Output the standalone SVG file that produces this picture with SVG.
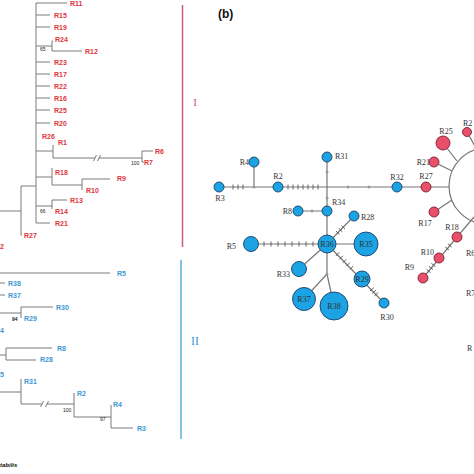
<svg xmlns="http://www.w3.org/2000/svg" width="474" height="474" viewBox="0 0 474 474">
<style>
.t{stroke:#7a7a7a;stroke-width:1;fill:none}
.r{font-family:"Liberation Sans",Arial,sans-serif;font-size:7px;font-weight:bold;fill:#e0363c}
.b{font-family:"Liberation Sans",Arial,sans-serif;font-size:7px;font-weight:bold;fill:#3d98d3}
.s{font-family:"Liberation Sans",Arial,sans-serif;font-size:5px;fill:#222}
.n{stroke:#777;stroke-width:1.2;fill:none}
.h{stroke:#555;stroke-width:0.9}
.bc{fill:#1ba3e3;stroke:#1d3f66;stroke-width:0.9}
.pc{fill:#e8506a;stroke:#7d1f34;stroke-width:0.9}
.d{fill:#999}
.l{font-family:"Liberation Serif","Times New Roman",serif;font-size:8px;fill:#333}
</style>
<rect width="474" height="474" fill="#fff"/>
<!-- tree (a) -->
<g id="tree-connectors">
<path class="t" d="M36,3V223M36,3H67M36,15H50M36,27H50M36,46H52M52,41V51M52,41H53M52,51H82M36,62H50M36,74H50M36,86H50M36,98H50M36,110H50M36,123H50M36,151H53M53,145V158M53,158H95M99,158H142M142,151V162M142,151H153M142,162H144M36,177H52M52,168V185M52,185H82M82,179V190M82,179H110M36,206H52M52,200V209M52,200H67M36,223H50M21,186V235M21,186H36M0,211H21M21,235H22"/>
<path class="t" d="M93.5,161L96.5,155M97.5,161L100.5,155"/>
<path class="t" d="M0,273H110M0,283H5M0,295H5M0,313H21M21,307V318M21,307H53M0,355H6M6,348V360M6,348H52M6,360H36M0,392H21M21,379V404M21,404H42M47,404H74M74,393V417M74,417H111M111,405V428M111,428H133"/>
<path class="t" d="M40.5,407L43.5,401M45.5,407L48.5,401"/>
</g>
<g id="tree-labels">
<text class="r" x="70" y="6">R11</text>
<text class="r" x="54" y="18">R15</text>
<text class="r" x="54" y="30">R19</text>
<text class="r" x="55" y="42">R24</text>
<text class="r" x="85" y="54">R12</text>
<text class="s" x="40" y="51">65</text>
<text class="r" x="54" y="65">R23</text>
<text class="r" x="54" y="77">R17</text>
<text class="r" x="54" y="89">R22</text>
<text class="r" x="54" y="101">R16</text>
<text class="r" x="54" y="113">R25</text>
<text class="r" x="54" y="126">R20</text>
<text class="r" x="42" y="139">R26</text>
<text class="r" x="58" y="145">R1</text>
<text class="r" x="155" y="154">R6</text>
<text class="r" x="144" y="165">R7</text>
<text class="s" x="131" y="165">100</text>
<text class="r" x="55" y="175">R18</text>
<text class="r" x="117" y="181">R9</text>
<text class="r" x="86" y="193">R10</text>
<text class="r" x="70" y="203">R13</text>
<text class="r" x="55" y="214">R14</text>
<text class="s" x="40" y="213">66</text>
<text class="r" x="55" y="226">R21</text>
<text class="r" x="24" y="238">R27</text>
<text class="r" x="0" y="249">2</text>
<text class="b" x="117" y="276">R5</text>
<text class="b" x="8" y="286">R38</text>
<text class="b" x="8" y="298">R37</text>
<text class="b" x="56" y="310">R30</text>
<text class="b" x="24" y="321">R29</text>
<text class="s" x="12" y="321" font-weight="bold">94</text>
<text class="b" x="0" y="333">4</text>
<text class="b" x="57" y="351">R8</text>
<text class="b" x="40" y="362">R28</text>
<text class="b" x="0" y="377">5</text>
<text class="b" x="24" y="384">R31</text>
<text class="b" x="77" y="396">R2</text>
<text class="s" x="63" y="412">100</text>
<text class="b" x="113" y="407">R4</text>
<text class="s" x="100" y="421">97</text>
<text class="b" x="137" y="431">R3</text>
<text x="0" y="467" font-family="Liberation Sans,Arial,sans-serif" font-size="6" font-weight="bold" font-style="italic" fill="#111">tabilis</text>
</g>
<g id="clade-I">
<line x1="182.5" y1="5" x2="182.5" y2="247" stroke="#c95a80" stroke-width="1.5"/>
<text x="195" y="106" font-family="Liberation Serif,serif" font-size="11" fill="#c95a80" text-anchor="middle">I</text>
</g>
<g id="clade-II">
<line x1="181" y1="260" x2="181" y2="439" stroke="#5aaedc" stroke-width="1.5"/>
<text x="195" y="345" font-family="Liberation Serif,serif" font-size="12" fill="#3d98d3" text-anchor="middle">II</text>
</g>
<text x="218" y="18" font-family="Liberation Sans,Arial,sans-serif" font-size="12" font-weight="bold" fill="#111">(b)</text>
<!-- network (b) -->
<g id="connectors">
<path class="n" d="M219,187H397M254,187V162M327,157V244M298,211H327M327,244L354,216M251,244H366M327,244L299,269M327,244V274L304,299M327,274L334,306M327,244L384,303M397,187H449M443,143L457,161M467,132L476,148M434,162L452,171M434,212L452,200M423,278L457,237L474,217"/>
<circle cx="487" cy="186" r="38" fill="none" stroke="#777" stroke-width="1.2"/>
<g class="h">
<path d="M233,184.5V189.5M238,184.5V189.5M243,184.5V189.5"/>
<path d="M288,184.5V189.5M293,184.5V189.5M298,184.5V189.5M303,184.5V189.5M308,184.5V189.5M313,184.5V189.5M318,184.5V189.5"/>
<path d="M264,241.5V246.5M271,241.5V246.5M278,241.5V246.5M285,241.5V246.5M292,241.5V246.5M299,241.5V246.5M306,241.5V246.5M313,241.5V246.5"/>
<path d="M336,231.1L339.6,234.5M338.7,228.3L342.3,231.7M341.4,225.5L345,228.9"/>
<path d="M335.8,256L339.3,252.4M339.3,259.4L342.8,255.8M342.8,262.8L346.3,259.2M346.3,266.2L349.8,262.6M349.8,269.6L353.3,266"/>
<path d="M370,290.9L373.8,287.6M372.2,293.4L376,290.1M374.4,295.9L378.2,292.6"/>
<path d="M447.9,243.8L451.7,247M445.2,247L449,250.1"/>
<path d="M431.4,263.4L435.4,266.6M429,266.4L433,269.6M426.6,269.4L430.6,272.6"/>
</g>
<circle class="d" cx="254" cy="187" r="1.5"/>
<circle class="d" cx="327" cy="172" r="1.5"/>
<circle class="d" cx="327" cy="198" r="1.5"/>
<circle class="d" cx="312" cy="211" r="1.5"/>
<circle class="d" cx="348" cy="187" r="1.5"/>
<circle class="d" cx="369" cy="187" r="1.5"/>
<circle class="d" cx="327" cy="274" r="1.5"/>
</g>
<g id="node-R3"><circle class="bc" cx="219" cy="187" r="5"/><text class="l" x="220" y="201" text-anchor="middle">R3</text></g>
<g id="node-R4"><circle class="bc" cx="254" cy="162" r="5"/><text class="l" x="249" y="165" text-anchor="end">R4</text></g>
<g id="node-R2"><circle class="bc" cx="278" cy="187" r="5"/><text class="l" x="278" y="179" text-anchor="middle">R2</text></g>
<g id="node-R31"><circle class="bc" cx="327" cy="157" r="5"/><text class="l" x="335" y="159">R31</text></g>
<g id="node-R32"><circle class="bc" cx="397" cy="187" r="5"/><text class="l" x="397" y="180" text-anchor="middle">R32</text></g>
<g id="node-R34"><circle class="bc" cx="327" cy="211" r="5"/><text class="l" x="332" y="205">R34</text></g>
<g id="node-R8"><circle class="bc" cx="298" cy="211" r="5"/><text class="l" x="292" y="214" text-anchor="end">R8</text></g>
<g id="node-R28"><circle class="bc" cx="354" cy="216" r="5"/><text class="l" x="361" y="220">R28</text></g>
<g id="node-R5"><circle class="bc" cx="251" cy="244" r="7.5"/><text class="l" x="236" y="249" text-anchor="end">R5</text></g>
<g id="node-R36"><circle class="bc" cx="327" cy="244" r="9"/><text class="l" x="327" y="247" text-anchor="middle">R36</text></g>
<g id="node-R35"><circle class="bc" cx="366" cy="244" r="12"/><text class="l" x="366" y="247" text-anchor="middle">R35</text></g>
<g id="node-R33"><circle class="bc" cx="299" cy="269" r="7.5"/><text class="l" x="290" y="277" text-anchor="end">R33</text></g>
<g id="node-R37"><circle class="bc" cx="304" cy="299" r="11.5"/><text class="l" x="304" y="302" text-anchor="middle">R37</text></g>
<g id="node-R38"><circle class="bc" cx="334" cy="306" r="14"/><text class="l" x="334" y="309" text-anchor="middle">R38</text></g>
<g id="node-R29"><circle class="bc" cx="362" cy="279" r="8"/><text class="l" x="362" y="282" text-anchor="middle">R29</text></g>
<g id="node-R30"><circle class="bc" cx="384" cy="303" r="5"/><text class="l" x="387" y="320" text-anchor="middle">R30</text></g>
<g id="node-R27"><circle class="pc" cx="426" cy="187" r="5"/><text class="l" x="426" y="179" text-anchor="middle">R27</text></g>
<g id="node-R25"><circle class="pc" cx="443" cy="143" r="7"/><text class="l" x="446" y="134" text-anchor="middle">R25</text></g>
<g id="node-R2b"><circle class="pc" cx="467" cy="132" r="4.5"/><text class="l" x="463" y="126">R2</text></g>
<g id="node-R21"><circle class="pc" cx="434" cy="162" r="5"/><text class="l" x="430" y="165" text-anchor="end">R21</text></g>
<g id="node-R17"><circle class="pc" cx="434" cy="212" r="5"/><text class="l" x="425" y="226" text-anchor="middle">R17</text></g>
<g id="node-R18"><circle class="pc" cx="457" cy="237" r="5"/><text class="l" x="452" y="230" text-anchor="middle">R18</text></g>
<g id="node-R10"><circle class="pc" cx="439" cy="258" r="5"/><text class="l" x="434" y="255" text-anchor="end">R10</text></g>
<g id="node-R9"><circle class="pc" cx="423" cy="278" r="5"/><text class="l" x="414" y="270" text-anchor="end">R9</text></g>
<text class="l" x="466" y="256">R6</text>
<text class="l" x="466" y="296">R7</text>
<text class="l" x="467" y="351">R</text>
</svg>
